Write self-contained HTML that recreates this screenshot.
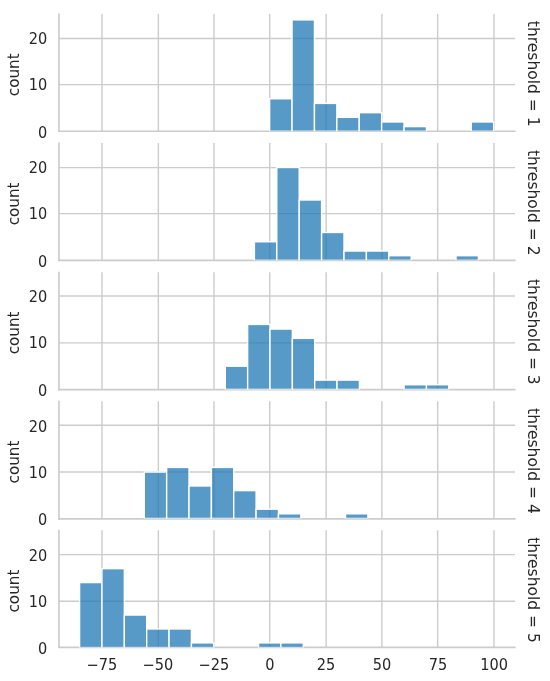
<!DOCTYPE html>
<html lang="en"><head><meta charset="utf-8"><title>threshold histograms</title>
<style>
html,body{margin:0;padding:0;background:#fff;}
body{width:550px;height:681px;overflow:hidden;}
svg text{font-family:"DejaVu Sans","Liberation Sans",sans-serif;}
</style></head><body>
<svg width="550" height="681" viewBox="0 0 550 681" style="display:block">
<rect width="550" height="681" fill="#fff"/>
<g>
<line x1="102.00" x2="102.00" y1="14.05" y2="131.25" stroke="#cccccc" stroke-width="1.4"/>
<line x1="158.35" x2="158.35" y1="14.05" y2="131.25" stroke="#cccccc" stroke-width="1.4"/>
<line x1="214.00" x2="214.00" y1="14.05" y2="131.25" stroke="#cccccc" stroke-width="1.4"/>
<line x1="269.75" x2="269.75" y1="14.05" y2="131.25" stroke="#cccccc" stroke-width="1.4"/>
<line x1="326.15" x2="326.15" y1="14.05" y2="131.25" stroke="#cccccc" stroke-width="1.4"/>
<line x1="381.90" x2="381.90" y1="14.05" y2="131.25" stroke="#cccccc" stroke-width="1.4"/>
<line x1="437.65" x2="437.65" y1="14.05" y2="131.25" stroke="#cccccc" stroke-width="1.4"/>
<line x1="494.00" x2="494.00" y1="14.05" y2="131.25" stroke="#cccccc" stroke-width="1.4"/>
<line x1="58.95" x2="515.0" y1="84.60" y2="84.60" stroke="#cccccc" stroke-width="1.4"/>
<line x1="58.95" x2="515.0" y1="38.45" y2="38.45" stroke="#cccccc" stroke-width="1.4"/>
<line x1="58.95" x2="58.95" y1="13.52" y2="132.02" stroke="#cccccc" stroke-width="1.65"/>
<line x1="58.125" x2="515.6" y1="131.20" y2="131.20" stroke="#cccccc" stroke-width="1.65"/>
<clipPath id="c0"><rect x="58.95" y="14.35" width="456.05" height="116.90"/></clipPath>
<g clip-path="url(#c0)">
<rect x="269.65" y="98.77" width="22.40" height="32.48" fill="#1f77b4" fill-opacity="0.75" stroke="#fff" stroke-width="1.4"/>
<rect x="292.05" y="19.89" width="22.40" height="111.36" fill="#1f77b4" fill-opacity="0.75" stroke="#fff" stroke-width="1.4"/>
<rect x="314.45" y="103.41" width="22.40" height="27.84" fill="#1f77b4" fill-opacity="0.75" stroke="#fff" stroke-width="1.4"/>
<rect x="336.85" y="117.33" width="22.40" height="13.92" fill="#1f77b4" fill-opacity="0.75" stroke="#fff" stroke-width="1.4"/>
<rect x="359.25" y="112.69" width="22.40" height="18.56" fill="#1f77b4" fill-opacity="0.75" stroke="#fff" stroke-width="1.4"/>
<rect x="381.65" y="121.97" width="22.40" height="9.28" fill="#1f77b4" fill-opacity="0.75" stroke="#fff" stroke-width="1.4"/>
<rect x="404.05" y="126.61" width="22.40" height="4.64" fill="#1f77b4" fill-opacity="0.75" stroke="#fff" stroke-width="1.4"/>
<rect x="471.25" y="121.97" width="22.40" height="9.28" fill="#1f77b4" fill-opacity="0.75" stroke="#fff" stroke-width="1.4"/>
</g>
<text transform="translate(47.15,137.55) scale(0.945,1)" text-anchor="end" font-size="15.4" fill="#262626">0</text>
<text transform="translate(47.15,90.35) scale(0.945,1)" text-anchor="end" font-size="15.4" fill="#262626">10</text>
<text transform="translate(47.15,44.35) scale(0.945,1)" text-anchor="end" font-size="15.4" fill="#262626">20</text>
<text transform="translate(19.1,74.80) rotate(-90) scale(0.915,1)" text-anchor="middle" font-size="16.6" fill="#262626">count</text>
<text transform="translate(527.5,73.70) rotate(90) scale(0.935,1)" text-anchor="middle" font-size="16.6" fill="#262626">threshold = 1</text>
</g>
<g>
<line x1="102.00" x2="102.00" y1="143.12" y2="260.32" stroke="#cccccc" stroke-width="1.4"/>
<line x1="158.35" x2="158.35" y1="143.12" y2="260.32" stroke="#cccccc" stroke-width="1.4"/>
<line x1="214.00" x2="214.00" y1="143.12" y2="260.32" stroke="#cccccc" stroke-width="1.4"/>
<line x1="269.75" x2="269.75" y1="143.12" y2="260.32" stroke="#cccccc" stroke-width="1.4"/>
<line x1="326.15" x2="326.15" y1="143.12" y2="260.32" stroke="#cccccc" stroke-width="1.4"/>
<line x1="381.90" x2="381.90" y1="143.12" y2="260.32" stroke="#cccccc" stroke-width="1.4"/>
<line x1="437.65" x2="437.65" y1="143.12" y2="260.32" stroke="#cccccc" stroke-width="1.4"/>
<line x1="494.00" x2="494.00" y1="143.12" y2="260.32" stroke="#cccccc" stroke-width="1.4"/>
<line x1="58.95" x2="515.0" y1="213.65" y2="213.65" stroke="#cccccc" stroke-width="1.4"/>
<line x1="58.95" x2="515.0" y1="167.60" y2="167.60" stroke="#cccccc" stroke-width="1.4"/>
<line x1="58.95" x2="58.95" y1="142.59" y2="261.18" stroke="#cccccc" stroke-width="1.65"/>
<line x1="58.125" x2="515.6" y1="260.35" y2="260.35" stroke="#cccccc" stroke-width="1.65"/>
<clipPath id="c1"><rect x="58.95" y="143.42" width="456.05" height="116.90"/></clipPath>
<g clip-path="url(#c1)">
<rect x="254.40" y="241.76" width="22.40" height="18.56" fill="#1f77b4" fill-opacity="0.75" stroke="#fff" stroke-width="1.4"/>
<rect x="276.80" y="167.52" width="22.40" height="92.80" fill="#1f77b4" fill-opacity="0.75" stroke="#fff" stroke-width="1.4"/>
<rect x="299.20" y="200.00" width="22.40" height="60.32" fill="#1f77b4" fill-opacity="0.75" stroke="#fff" stroke-width="1.4"/>
<rect x="321.60" y="232.48" width="22.40" height="27.84" fill="#1f77b4" fill-opacity="0.75" stroke="#fff" stroke-width="1.4"/>
<rect x="344.00" y="251.04" width="22.40" height="9.28" fill="#1f77b4" fill-opacity="0.75" stroke="#fff" stroke-width="1.4"/>
<rect x="366.40" y="251.04" width="22.40" height="9.28" fill="#1f77b4" fill-opacity="0.75" stroke="#fff" stroke-width="1.4"/>
<rect x="388.80" y="255.68" width="22.40" height="4.64" fill="#1f77b4" fill-opacity="0.75" stroke="#fff" stroke-width="1.4"/>
<rect x="456.00" y="255.68" width="22.40" height="4.64" fill="#1f77b4" fill-opacity="0.75" stroke="#fff" stroke-width="1.4"/>
</g>
<text transform="translate(47.15,266.62) scale(0.945,1)" text-anchor="end" font-size="15.4" fill="#262626">0</text>
<text transform="translate(47.15,219.42) scale(0.945,1)" text-anchor="end" font-size="15.4" fill="#262626">10</text>
<text transform="translate(47.15,173.42) scale(0.945,1)" text-anchor="end" font-size="15.4" fill="#262626">20</text>
<text transform="translate(19.1,203.87) rotate(-90) scale(0.915,1)" text-anchor="middle" font-size="16.6" fill="#262626">count</text>
<text transform="translate(527.5,202.77) rotate(90) scale(0.935,1)" text-anchor="middle" font-size="16.6" fill="#262626">threshold = 2</text>
</g>
<g>
<line x1="102.00" x2="102.00" y1="272.19" y2="389.39" stroke="#cccccc" stroke-width="1.4"/>
<line x1="158.35" x2="158.35" y1="272.19" y2="389.39" stroke="#cccccc" stroke-width="1.4"/>
<line x1="214.00" x2="214.00" y1="272.19" y2="389.39" stroke="#cccccc" stroke-width="1.4"/>
<line x1="269.75" x2="269.75" y1="272.19" y2="389.39" stroke="#cccccc" stroke-width="1.4"/>
<line x1="326.15" x2="326.15" y1="272.19" y2="389.39" stroke="#cccccc" stroke-width="1.4"/>
<line x1="381.90" x2="381.90" y1="272.19" y2="389.39" stroke="#cccccc" stroke-width="1.4"/>
<line x1="437.65" x2="437.65" y1="272.19" y2="389.39" stroke="#cccccc" stroke-width="1.4"/>
<line x1="494.00" x2="494.00" y1="272.19" y2="389.39" stroke="#cccccc" stroke-width="1.4"/>
<line x1="58.95" x2="515.0" y1="342.85" y2="342.85" stroke="#cccccc" stroke-width="1.4"/>
<line x1="58.95" x2="515.0" y1="296.00" y2="296.00" stroke="#cccccc" stroke-width="1.4"/>
<line x1="58.95" x2="58.95" y1="271.67" y2="390.38" stroke="#cccccc" stroke-width="1.65"/>
<line x1="58.125" x2="515.6" y1="389.55" y2="389.55" stroke="#cccccc" stroke-width="1.65"/>
<clipPath id="c2"><rect x="58.95" y="272.49" width="456.05" height="116.90"/></clipPath>
<g clip-path="url(#c2)">
<rect x="225.30" y="366.19" width="22.35" height="23.20" fill="#1f77b4" fill-opacity="0.75" stroke="#fff" stroke-width="1.4"/>
<rect x="247.65" y="324.43" width="22.35" height="64.96" fill="#1f77b4" fill-opacity="0.75" stroke="#fff" stroke-width="1.4"/>
<rect x="270.00" y="329.07" width="22.35" height="60.32" fill="#1f77b4" fill-opacity="0.75" stroke="#fff" stroke-width="1.4"/>
<rect x="292.35" y="338.35" width="22.35" height="51.04" fill="#1f77b4" fill-opacity="0.75" stroke="#fff" stroke-width="1.4"/>
<rect x="314.70" y="380.11" width="22.35" height="9.28" fill="#1f77b4" fill-opacity="0.75" stroke="#fff" stroke-width="1.4"/>
<rect x="337.05" y="380.11" width="22.35" height="9.28" fill="#1f77b4" fill-opacity="0.75" stroke="#fff" stroke-width="1.4"/>
<rect x="404.10" y="384.75" width="22.35" height="4.64" fill="#1f77b4" fill-opacity="0.75" stroke="#fff" stroke-width="1.4"/>
<rect x="426.45" y="384.75" width="22.35" height="4.64" fill="#1f77b4" fill-opacity="0.75" stroke="#fff" stroke-width="1.4"/>
</g>
<text transform="translate(47.15,395.69) scale(0.945,1)" text-anchor="end" font-size="15.4" fill="#262626">0</text>
<text transform="translate(47.15,348.49) scale(0.945,1)" text-anchor="end" font-size="15.4" fill="#262626">10</text>
<text transform="translate(47.15,302.49) scale(0.945,1)" text-anchor="end" font-size="15.4" fill="#262626">20</text>
<text transform="translate(19.1,332.94) rotate(-90) scale(0.915,1)" text-anchor="middle" font-size="16.6" fill="#262626">count</text>
<text transform="translate(527.5,331.84) rotate(90) scale(0.935,1)" text-anchor="middle" font-size="16.6" fill="#262626">threshold = 3</text>
</g>
<g>
<line x1="102.00" x2="102.00" y1="401.26" y2="518.46" stroke="#cccccc" stroke-width="1.4"/>
<line x1="158.35" x2="158.35" y1="401.26" y2="518.46" stroke="#cccccc" stroke-width="1.4"/>
<line x1="214.00" x2="214.00" y1="401.26" y2="518.46" stroke="#cccccc" stroke-width="1.4"/>
<line x1="269.75" x2="269.75" y1="401.26" y2="518.46" stroke="#cccccc" stroke-width="1.4"/>
<line x1="326.15" x2="326.15" y1="401.26" y2="518.46" stroke="#cccccc" stroke-width="1.4"/>
<line x1="381.90" x2="381.90" y1="401.26" y2="518.46" stroke="#cccccc" stroke-width="1.4"/>
<line x1="437.65" x2="437.65" y1="401.26" y2="518.46" stroke="#cccccc" stroke-width="1.4"/>
<line x1="494.00" x2="494.00" y1="401.26" y2="518.46" stroke="#cccccc" stroke-width="1.4"/>
<line x1="58.95" x2="515.0" y1="472.00" y2="472.00" stroke="#cccccc" stroke-width="1.4"/>
<line x1="58.95" x2="515.0" y1="425.30" y2="425.30" stroke="#cccccc" stroke-width="1.4"/>
<line x1="58.95" x2="58.95" y1="400.74" y2="519.68" stroke="#cccccc" stroke-width="1.65"/>
<line x1="58.125" x2="515.6" y1="518.85" y2="518.85" stroke="#cccccc" stroke-width="1.65"/>
<clipPath id="c3"><rect x="58.95" y="401.56" width="456.05" height="116.90"/></clipPath>
<g clip-path="url(#c3)">
<rect x="144.30" y="472.06" width="22.36" height="46.40" fill="#1f77b4" fill-opacity="0.75" stroke="#fff" stroke-width="1.4"/>
<rect x="166.66" y="467.42" width="22.36" height="51.04" fill="#1f77b4" fill-opacity="0.75" stroke="#fff" stroke-width="1.4"/>
<rect x="189.02" y="485.98" width="22.36" height="32.48" fill="#1f77b4" fill-opacity="0.75" stroke="#fff" stroke-width="1.4"/>
<rect x="211.38" y="467.42" width="22.36" height="51.04" fill="#1f77b4" fill-opacity="0.75" stroke="#fff" stroke-width="1.4"/>
<rect x="233.74" y="490.62" width="22.36" height="27.84" fill="#1f77b4" fill-opacity="0.75" stroke="#fff" stroke-width="1.4"/>
<rect x="256.10" y="509.18" width="22.36" height="9.28" fill="#1f77b4" fill-opacity="0.75" stroke="#fff" stroke-width="1.4"/>
<rect x="278.46" y="513.82" width="22.36" height="4.64" fill="#1f77b4" fill-opacity="0.75" stroke="#fff" stroke-width="1.4"/>
<rect x="345.54" y="513.82" width="22.36" height="4.64" fill="#1f77b4" fill-opacity="0.75" stroke="#fff" stroke-width="1.4"/>
</g>
<text transform="translate(47.15,524.76) scale(0.945,1)" text-anchor="end" font-size="15.4" fill="#262626">0</text>
<text transform="translate(47.15,477.56) scale(0.945,1)" text-anchor="end" font-size="15.4" fill="#262626">10</text>
<text transform="translate(47.15,431.56) scale(0.945,1)" text-anchor="end" font-size="15.4" fill="#262626">20</text>
<text transform="translate(19.1,462.01) rotate(-90) scale(0.915,1)" text-anchor="middle" font-size="16.6" fill="#262626">count</text>
<text transform="translate(527.5,460.91) rotate(90) scale(0.935,1)" text-anchor="middle" font-size="16.6" fill="#262626">threshold = 4</text>
</g>
<g>
<line x1="102.00" x2="102.00" y1="530.33" y2="647.53" stroke="#cccccc" stroke-width="1.4"/>
<line x1="158.35" x2="158.35" y1="530.33" y2="647.53" stroke="#cccccc" stroke-width="1.4"/>
<line x1="214.00" x2="214.00" y1="530.33" y2="647.53" stroke="#cccccc" stroke-width="1.4"/>
<line x1="269.75" x2="269.75" y1="530.33" y2="647.53" stroke="#cccccc" stroke-width="1.4"/>
<line x1="326.15" x2="326.15" y1="530.33" y2="647.53" stroke="#cccccc" stroke-width="1.4"/>
<line x1="381.90" x2="381.90" y1="530.33" y2="647.53" stroke="#cccccc" stroke-width="1.4"/>
<line x1="437.65" x2="437.65" y1="530.33" y2="647.53" stroke="#cccccc" stroke-width="1.4"/>
<line x1="494.00" x2="494.00" y1="530.33" y2="647.53" stroke="#cccccc" stroke-width="1.4"/>
<line x1="58.95" x2="515.0" y1="601.25" y2="601.25" stroke="#cccccc" stroke-width="1.4"/>
<line x1="58.95" x2="515.0" y1="554.60" y2="554.60" stroke="#cccccc" stroke-width="1.4"/>
<line x1="58.95" x2="58.95" y1="529.80" y2="648.12" stroke="#cccccc" stroke-width="1.65"/>
<line x1="58.125" x2="515.6" y1="647.30" y2="647.30" stroke="#cccccc" stroke-width="1.65"/>
<clipPath id="c4"><rect x="58.95" y="530.63" width="456.05" height="116.90"/></clipPath>
<g clip-path="url(#c4)">
<rect x="79.60" y="582.57" width="22.37" height="64.96" fill="#1f77b4" fill-opacity="0.75" stroke="#fff" stroke-width="1.4"/>
<rect x="101.97" y="568.65" width="22.37" height="78.88" fill="#1f77b4" fill-opacity="0.75" stroke="#fff" stroke-width="1.4"/>
<rect x="124.33" y="615.05" width="22.37" height="32.48" fill="#1f77b4" fill-opacity="0.75" stroke="#fff" stroke-width="1.4"/>
<rect x="146.69" y="628.97" width="22.37" height="18.56" fill="#1f77b4" fill-opacity="0.75" stroke="#fff" stroke-width="1.4"/>
<rect x="169.06" y="628.97" width="22.37" height="18.56" fill="#1f77b4" fill-opacity="0.75" stroke="#fff" stroke-width="1.4"/>
<rect x="191.43" y="642.89" width="22.37" height="4.64" fill="#1f77b4" fill-opacity="0.75" stroke="#fff" stroke-width="1.4"/>
<rect x="258.52" y="642.89" width="22.37" height="4.64" fill="#1f77b4" fill-opacity="0.75" stroke="#fff" stroke-width="1.4"/>
<rect x="280.88" y="642.89" width="22.37" height="4.64" fill="#1f77b4" fill-opacity="0.75" stroke="#fff" stroke-width="1.4"/>
</g>
<text transform="translate(47.15,653.83) scale(0.945,1)" text-anchor="end" font-size="15.4" fill="#262626">0</text>
<text transform="translate(47.15,606.63) scale(0.945,1)" text-anchor="end" font-size="15.4" fill="#262626">10</text>
<text transform="translate(47.15,560.63) scale(0.945,1)" text-anchor="end" font-size="15.4" fill="#262626">20</text>
<text transform="translate(19.1,591.08) rotate(-90) scale(0.915,1)" text-anchor="middle" font-size="16.6" fill="#262626">count</text>
<text transform="translate(527.5,589.98) rotate(90) scale(0.935,1)" text-anchor="middle" font-size="16.6" fill="#262626">threshold = 5</text>
</g>
<text transform="translate(102.00,670.0) scale(0.945,1)" text-anchor="middle" font-size="15.4" fill="#262626">−75</text>
<text transform="translate(158.00,670.0) scale(0.945,1)" text-anchor="middle" font-size="15.4" fill="#262626">−50</text>
<text transform="translate(214.00,670.0) scale(0.945,1)" text-anchor="middle" font-size="15.4" fill="#262626">−25</text>
<text transform="translate(270.00,670.0) scale(0.945,1)" text-anchor="middle" font-size="15.4" fill="#262626">0</text>
<text transform="translate(326.00,670.0) scale(0.945,1)" text-anchor="middle" font-size="15.4" fill="#262626">25</text>
<text transform="translate(382.00,670.0) scale(0.945,1)" text-anchor="middle" font-size="15.4" fill="#262626">50</text>
<text transform="translate(438.00,670.0) scale(0.945,1)" text-anchor="middle" font-size="15.4" fill="#262626">75</text>
<text transform="translate(494.00,670.0) scale(0.945,1)" text-anchor="middle" font-size="15.4" fill="#262626">100</text>
</svg>
</body></html>
